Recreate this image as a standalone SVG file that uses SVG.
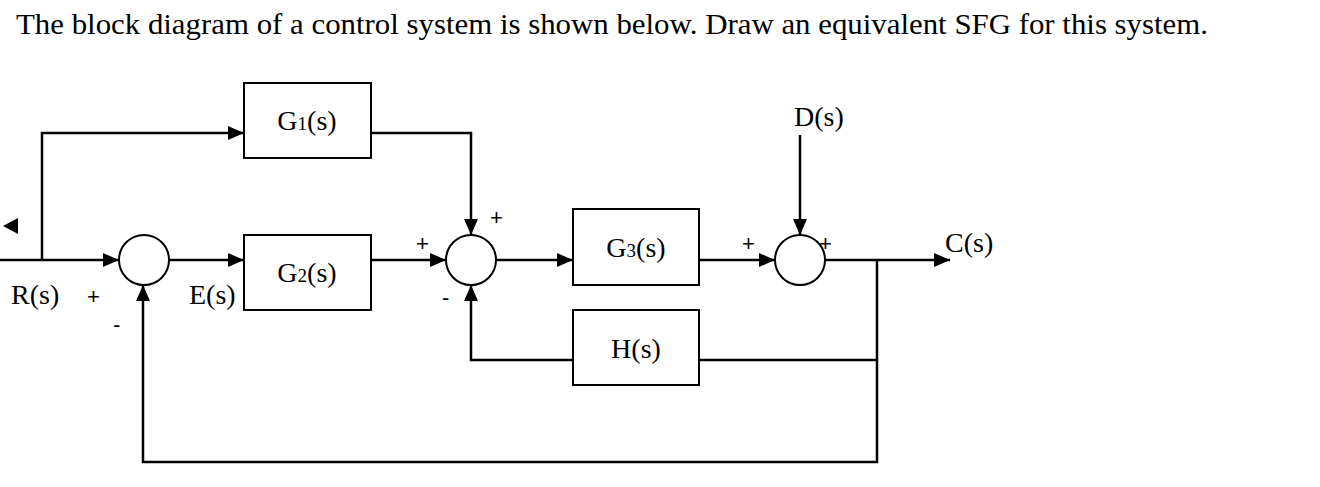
<svg xmlns="http://www.w3.org/2000/svg" width="1320" height="487" viewBox="0 0 1320 487">
<defs><marker id="a" markerWidth="16" markerHeight="14" refX="16" refY="7" orient="auto" markerUnits="userSpaceOnUse"><path d="M0,0 L16,7 L0,14 Z" fill="#000"/></marker></defs>
<style>text{font-family:"Liberation Serif",serif;fill:#000}.l{font-size:28px}.s{font-size:22px;font-family:"Liberation Sans",sans-serif}rect,circle{fill:#fff;stroke:#000;stroke-width:2}.c path{fill:none;stroke:#000;stroke-width:2.5}</style>
<rect width="1320" height="487" fill="#fff" style="stroke:none"/>
<text x="16" y="34" style="font-size:30px" textLength="1192" lengthAdjust="spacingAndGlyphs">The block diagram of a control system is shown below. Draw an equivalent SFG for this system.</text>
<g class="c">
<path d="M0,260 H119" marker-end="url(#a)"/>
<path d="M42,260 V133 H244" marker-end="url(#a)"/>
<path d="M169,260 H244" marker-end="url(#a)"/>
<path d="M371,133 H471 V235" marker-end="url(#a)"/>
<path d="M371,260 H446" marker-end="url(#a)"/>
<path d="M496,260 H573" marker-end="url(#a)"/>
<path d="M699,260 H775" marker-end="url(#a)"/>
<path d="M800,135 V235" marker-end="url(#a)"/>
<path d="M825,260 H950" marker-end="url(#a)"/>
<path d="M877,260 V462 H143 V285" marker-end="url(#a)"/>
<path d="M877,360 H699"/>
<path d="M573,360 H471 V285" marker-end="url(#a)"/>
</g>
<path d="M3,226 L18,218 L18,234 Z" fill="#000"/>
<g id="sum1"><circle cx="144" cy="260" r="25"/></g>
<g id="sum2"><circle cx="471" cy="260" r="25"/></g>
<g id="sum3"><circle cx="800" cy="260" r="25"/></g>
<g id="G1"><rect x="244" y="83" width="127" height="75"/><text class="l" x="307" y="130" text-anchor="middle">G<tspan style="font-size:19px">1</tspan>(s)</text></g>
<g id="G2"><rect x="244" y="235" width="127" height="75"/><text class="l" x="307" y="282" text-anchor="middle">G<tspan style="font-size:19px">2</tspan>(s)</text></g>
<g id="G3"><rect x="573" y="209" width="126" height="76"/><text class="l" x="636" y="257" text-anchor="middle">G<tspan style="font-size:19px">3</tspan>(s)</text></g>
<g id="H"><rect x="573" y="310" width="126" height="75"/><text class="l" x="636" y="358" text-anchor="middle">H(s)</text></g>
<text class="l" x="11" y="304">R(s)</text>
<text class="l" x="189" y="304">E(s)</text>
<text class="l" x="794" y="126">D(s)</text>
<text class="l" x="945" y="252">C(s)</text>
<text class="s" x="87" y="304">+</text>
<text class="s" x="113" y="332">-</text>
<text class="s" x="416" y="251">+</text>
<text class="s" x="490" y="225">+</text>
<text class="s" x="442" y="305">-</text>
<text class="s" x="742" y="251">+</text>
<text class="s" x="819" y="251">+</text>
</svg>
